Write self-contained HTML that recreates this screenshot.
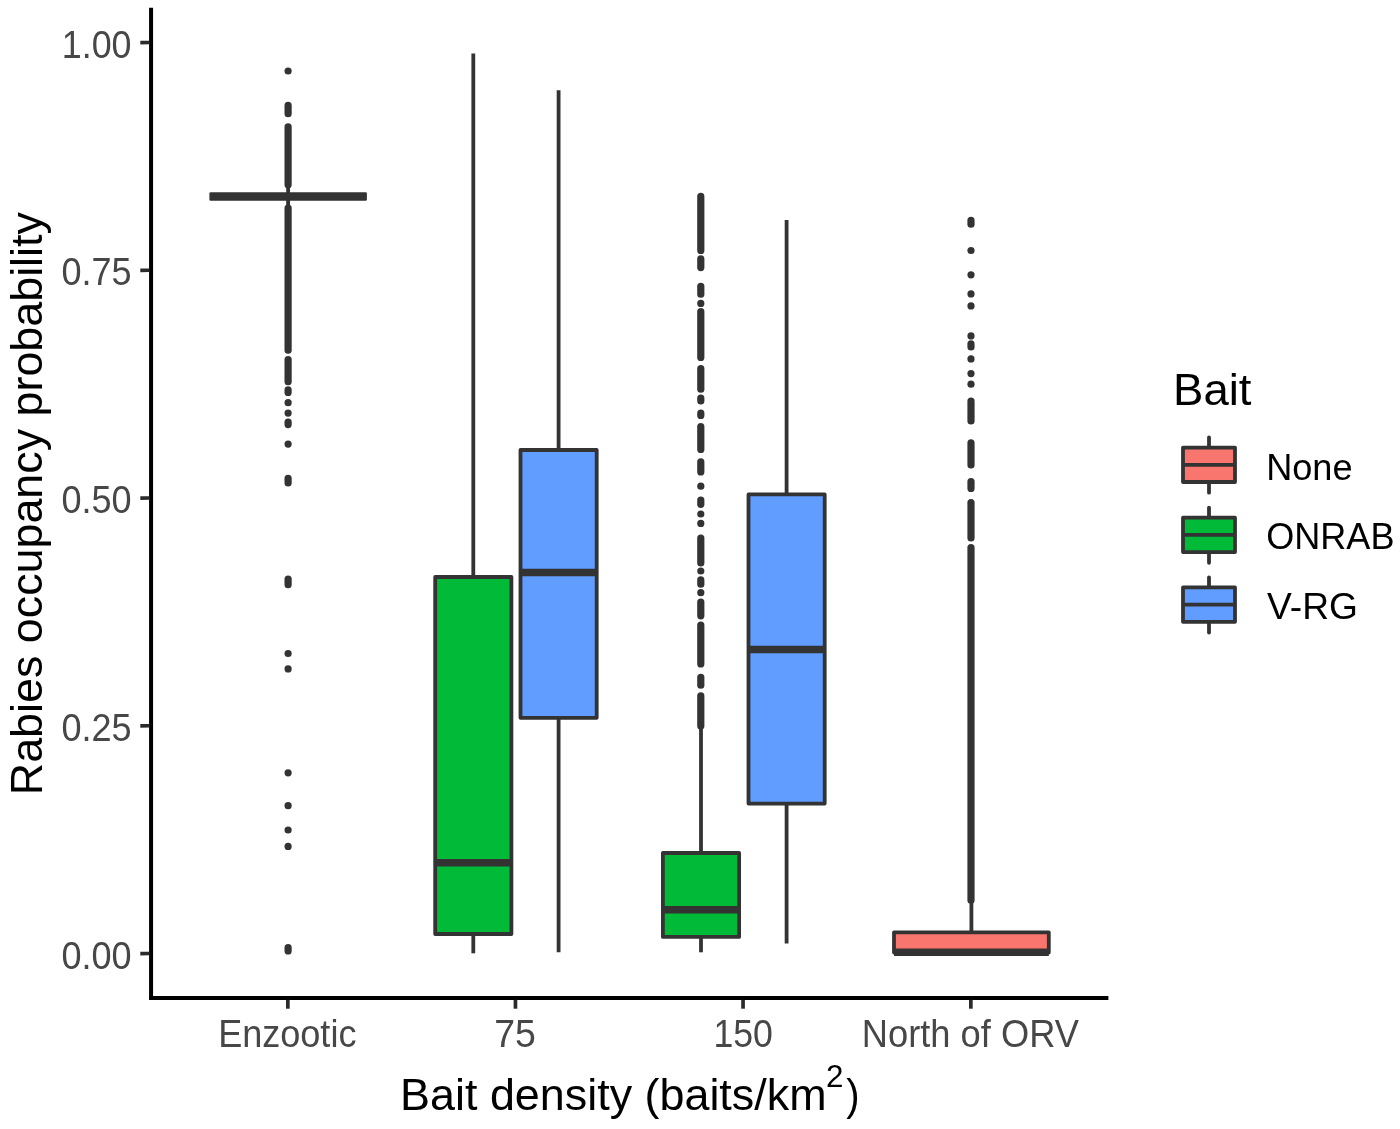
<!DOCTYPE html>
<html lang="en"><head><meta charset="utf-8"><title>Rabies occupancy probability by bait density</title>
<style>html,body{margin:0;padding:0;background:#fff}svg{display:block}text{font-family:"Liberation Sans",Arial,sans-serif}</style>
</head><body>
<svg width="1400" height="1129" viewBox="0 0 1400 1129">
<rect width="1400" height="1129" fill="#ffffff"/>
<g stroke="#333333" stroke-width="7.2" stroke-linecap="round"><line x1="288.1" y1="105.4" x2="288.1" y2="113.7"/><line x1="288.1" y1="126.9" x2="288.1" y2="184.8"/><line x1="288.1" y1="208.1" x2="288.1" y2="350.2"/><line x1="288.1" y1="359.5" x2="288.1" y2="381.7"/><line x1="288.1" y1="389.8" x2="288.1" y2="392.4"/><line x1="288.1" y1="422.2" x2="288.1" y2="424.6"/><line x1="288.1" y1="478.4" x2="288.1" y2="483.0"/><line x1="288.1" y1="579.2" x2="288.1" y2="584.7"/><line x1="288.1" y1="947.5" x2="288.1" y2="950.9"/></g>
<g fill="#333333"><circle cx="288.1" cy="71.0" r="3.6"/><circle cx="288.1" cy="402.7" r="3.6"/><circle cx="288.1" cy="413.1" r="3.6"/><circle cx="288.1" cy="444.1" r="3.6"/><circle cx="288.1" cy="653.5" r="3.6"/><circle cx="288.1" cy="668.9" r="3.6"/><circle cx="288.1" cy="772.8" r="3.6"/><circle cx="288.1" cy="805.7" r="3.6"/><circle cx="288.1" cy="830" r="3.6"/><circle cx="288.1" cy="846.4" r="3.6"/></g>
<g stroke="#333333" stroke-width="7.2" stroke-linecap="round"><line x1="700.8" y1="196.4" x2="700.8" y2="250.4"/><line x1="700.8" y1="258.9" x2="700.8" y2="267.6"/><line x1="700.8" y1="286.3" x2="700.8" y2="294.2"/><line x1="700.8" y1="311.5" x2="700.8" y2="357.4"/><line x1="700.8" y1="368.7" x2="700.8" y2="389.2"/><line x1="700.8" y1="398.1" x2="700.8" y2="401.0"/><line x1="700.8" y1="413.2" x2="700.8" y2="415.4"/><line x1="700.8" y1="426.5" x2="700.8" y2="449.4"/><line x1="700.8" y1="461.9" x2="700.8" y2="471.9"/><line x1="700.8" y1="500.0" x2="700.8" y2="504.3"/><line x1="700.8" y1="538.1" x2="700.8" y2="563.0"/><line x1="700.8" y1="579.9" x2="700.8" y2="584.2"/><line x1="700.8" y1="602.1" x2="700.8" y2="615.8"/><line x1="700.8" y1="625.1" x2="700.8" y2="663.9"/><line x1="700.8" y1="677.3" x2="700.8" y2="685.2"/><line x1="700.8" y1="695.9" x2="700.8" y2="725.9"/></g>
<g fill="#333333"><circle cx="700.8" cy="303.4" r="3.6"/><circle cx="700.8" cy="486.2" r="3.6"/><circle cx="700.8" cy="514" r="3.6"/><circle cx="700.8" cy="523.4" r="3.6"/><circle cx="700.8" cy="571" r="3.6"/><circle cx="700.8" cy="592.7" r="3.6"/></g>
<g stroke="#333333" stroke-width="7.2" stroke-linecap="round"><line x1="971.0" y1="220.4" x2="971.0" y2="224.2"/><line x1="971.0" y1="343.9" x2="971.0" y2="347.0"/><line x1="971.0" y1="401.0" x2="971.0" y2="421.0"/><line x1="971.0" y1="442.9" x2="971.0" y2="465.0"/><line x1="971.0" y1="481.6" x2="971.0" y2="488.4"/><line x1="971.0" y1="502.6" x2="971.0" y2="538.0"/><line x1="971.0" y1="547.5" x2="971.0" y2="900.2"/></g>
<g fill="#333333"><circle cx="971.0" cy="250.5" r="3.6"/><circle cx="971.0" cy="274.8" r="3.6"/><circle cx="971.0" cy="293.9" r="3.6"/><circle cx="971.0" cy="305.9" r="3.6"/><circle cx="971.0" cy="335.9" r="3.6"/><circle cx="971.0" cy="358.9" r="3.6"/><circle cx="971.0" cy="373.6" r="3.6"/><circle cx="971.0" cy="384.2" r="3.6"/></g>
<line x1="288.1" y1="186" x2="288.1" y2="208" stroke="#333333" stroke-width="3.8"/>
<rect x="209.4" y="192.2" width="157.5" height="8.6" rx="1.2" fill="#333333"/>
<g stroke="#333333" stroke-width="3.8" stroke-linejoin="round">
<line x1="473.3" y1="53.4" x2="473.3" y2="577.0"/>
<line x1="473.3" y1="934.0" x2="473.3" y2="953.3"/>
<rect x="435.20" y="577.0" width="76.20" height="357.00" fill="#00BA38"/>
<line x1="435.20" y1="862.7" x2="511.40" y2="862.7" stroke-width="7.5"/>
</g>
<g stroke="#333333" stroke-width="3.8" stroke-linejoin="round">
<line x1="558.6" y1="90.3" x2="558.6" y2="450.0"/>
<line x1="558.6" y1="717.8" x2="558.6" y2="952.3"/>
<rect x="520.50" y="450.0" width="76.20" height="267.80" fill="#619CFF"/>
<line x1="520.50" y1="572.6" x2="596.70" y2="572.6" stroke-width="7.5"/>
</g>
<g stroke="#333333" stroke-width="3.8" stroke-linejoin="round">
<line x1="701.0" y1="729.0" x2="701.0" y2="853.0"/>
<line x1="701.0" y1="936.9" x2="701.0" y2="952.3"/>
<rect x="662.90" y="853.0" width="76.20" height="83.90" fill="#00BA38"/>
<line x1="662.90" y1="909.8" x2="739.10" y2="909.8" stroke-width="7.5"/>
</g>
<g stroke="#333333" stroke-width="3.8" stroke-linejoin="round">
<line x1="786.6" y1="220.0" x2="786.6" y2="494.4"/>
<line x1="786.6" y1="803.6" x2="786.6" y2="943.5"/>
<rect x="748.50" y="494.4" width="76.20" height="309.20" fill="#619CFF"/>
<line x1="748.50" y1="649.4" x2="824.70" y2="649.4" stroke-width="7.5"/>
</g>
<g stroke="#333333" stroke-width="3.8" stroke-linejoin="round">
<line x1="971.4" y1="903.0" x2="971.4" y2="932.3"/>
<rect x="894.00" y="932.3" width="154.80" height="20.30" fill="#F8766D"/>
<line x1="894.00" y1="952.2" x2="1048.80" y2="952.2" stroke-width="7.5"/>
</g>
<g stroke="#000" stroke-width="4.0" stroke-linecap="butt">
<line x1="151.07" y1="7.85" x2="151.07" y2="998.05"/>
<line x1="149.05" y1="998.05" x2="1108.4" y2="998.05"/>
</g>
<g stroke="#2b2b2b" stroke-width="3.7">
<line x1="140.3" y1="953.55" x2="149.3" y2="953.50"/>
<line x1="140.3" y1="725.80" x2="149.3" y2="725.75"/>
<line x1="140.3" y1="498.05" x2="149.3" y2="498.00"/>
<line x1="140.3" y1="270.30" x2="149.3" y2="270.25"/>
<line x1="140.3" y1="42.55" x2="149.3" y2="42.50"/>
<line x1="287.85" y1="999.8" x2="287.85" y2="1008.7"/>
<line x1="515.45" y1="999.8" x2="515.45" y2="1008.7"/>
<line x1="743.05" y1="999.8" x2="743.05" y2="1008.7"/>
<line x1="970.85" y1="999.8" x2="970.85" y2="1008.7"/>
</g>
<text x="61.39" y="968.6" font-size="38.0" fill="#474747" textLength="70.12" lengthAdjust="spacingAndGlyphs">0.00</text>
<text x="61.39" y="740.9" font-size="38.0" fill="#474747" textLength="70.23" lengthAdjust="spacingAndGlyphs">0.25</text>
<text x="61.39" y="513.1" font-size="38.0" fill="#474747" textLength="70.12" lengthAdjust="spacingAndGlyphs">0.50</text>
<text x="61.39" y="285.4" font-size="38.0" fill="#474747" textLength="70.23" lengthAdjust="spacingAndGlyphs">0.75</text>
<text x="61.78" y="57.6" font-size="38.0" fill="#474747" textLength="69.73" lengthAdjust="spacingAndGlyphs">1.00</text>
<text x="218.14" y="1046.8" font-size="38.0" fill="#474747" textLength="138.31" lengthAdjust="spacingAndGlyphs">Enzootic</text>
<text x="494.29" y="1046.8" font-size="38.0" fill="#474747" textLength="41.70" lengthAdjust="spacingAndGlyphs">75</text>
<text x="713.39" y="1046.8" font-size="38.0" fill="#474747" textLength="59.52" lengthAdjust="spacingAndGlyphs">150</text>
<text x="861.83" y="1046.8" font-size="38.0" fill="#474747" textLength="217.05" lengthAdjust="spacingAndGlyphs">North of ORV</text>
<text fill="#000"><tspan x="400.12" y="1110.4" font-size="44.4" textLength="426.46" lengthAdjust="spacingAndGlyphs">Bait density (baits/km</tspan><tspan x="826.13" y="1087.0" font-size="30.8" textLength="17.44" lengthAdjust="spacingAndGlyphs">2</tspan><tspan x="846.16" y="1110.4" font-size="44.4" textLength="13.32" lengthAdjust="spacingAndGlyphs">)</tspan></text>
<text transform="translate(41.5,795.18) rotate(-90)" font-size="44.4" fill="#000" textLength="583.08" lengthAdjust="spacingAndGlyphs">Rabies occupancy probability</text>
<text x="1173.07" y="404.9" font-size="44.4" fill="#000" textLength="78.46" lengthAdjust="spacingAndGlyphs">Bait</text>
<g stroke="#333333" stroke-width="3.8" stroke-linecap="round" stroke-linejoin="round">
<line x1="1209.0" y1="437.50" x2="1209.0" y2="447.60"/>
<line x1="1209.0" y1="482.00" x2="1209.0" y2="492.70"/>
<rect x="1183.00" y="447.60" width="52" height="34.4" fill="#F8766D"/>
<line x1="1183.00" y1="464.8" x2="1235.00" y2="464.8" stroke-linecap="butt"/>
</g>
<text x="1266.14" y="479.8" font-size="37.4" fill="#000" textLength="86.38" lengthAdjust="spacingAndGlyphs">None</text>
<g stroke="#333333" stroke-width="3.8" stroke-linecap="round" stroke-linejoin="round">
<line x1="1209.0" y1="507.55" x2="1209.0" y2="517.65"/>
<line x1="1209.0" y1="552.05" x2="1209.0" y2="562.75"/>
<rect x="1183.00" y="517.65" width="52" height="34.4" fill="#00BA38"/>
<line x1="1183.00" y1="534.85" x2="1235.00" y2="534.85" stroke-linecap="butt"/>
</g>
<text x="1266.20" y="549.0" font-size="37.4" fill="#000" textLength="128.31" lengthAdjust="spacingAndGlyphs">ONRAB</text>
<g stroke="#333333" stroke-width="3.8" stroke-linecap="round" stroke-linejoin="round">
<line x1="1209.0" y1="577.30" x2="1209.0" y2="587.40"/>
<line x1="1209.0" y1="621.80" x2="1209.0" y2="632.50"/>
<rect x="1183.00" y="587.40" width="52" height="34.4" fill="#619CFF"/>
<line x1="1183.00" y1="604.6" x2="1235.00" y2="604.6" stroke-linecap="butt"/>
</g>
<text x="1267.11" y="619.4" font-size="37.4" fill="#000" textLength="90.87" lengthAdjust="spacingAndGlyphs">V-RG</text>
</svg>
</body></html>
